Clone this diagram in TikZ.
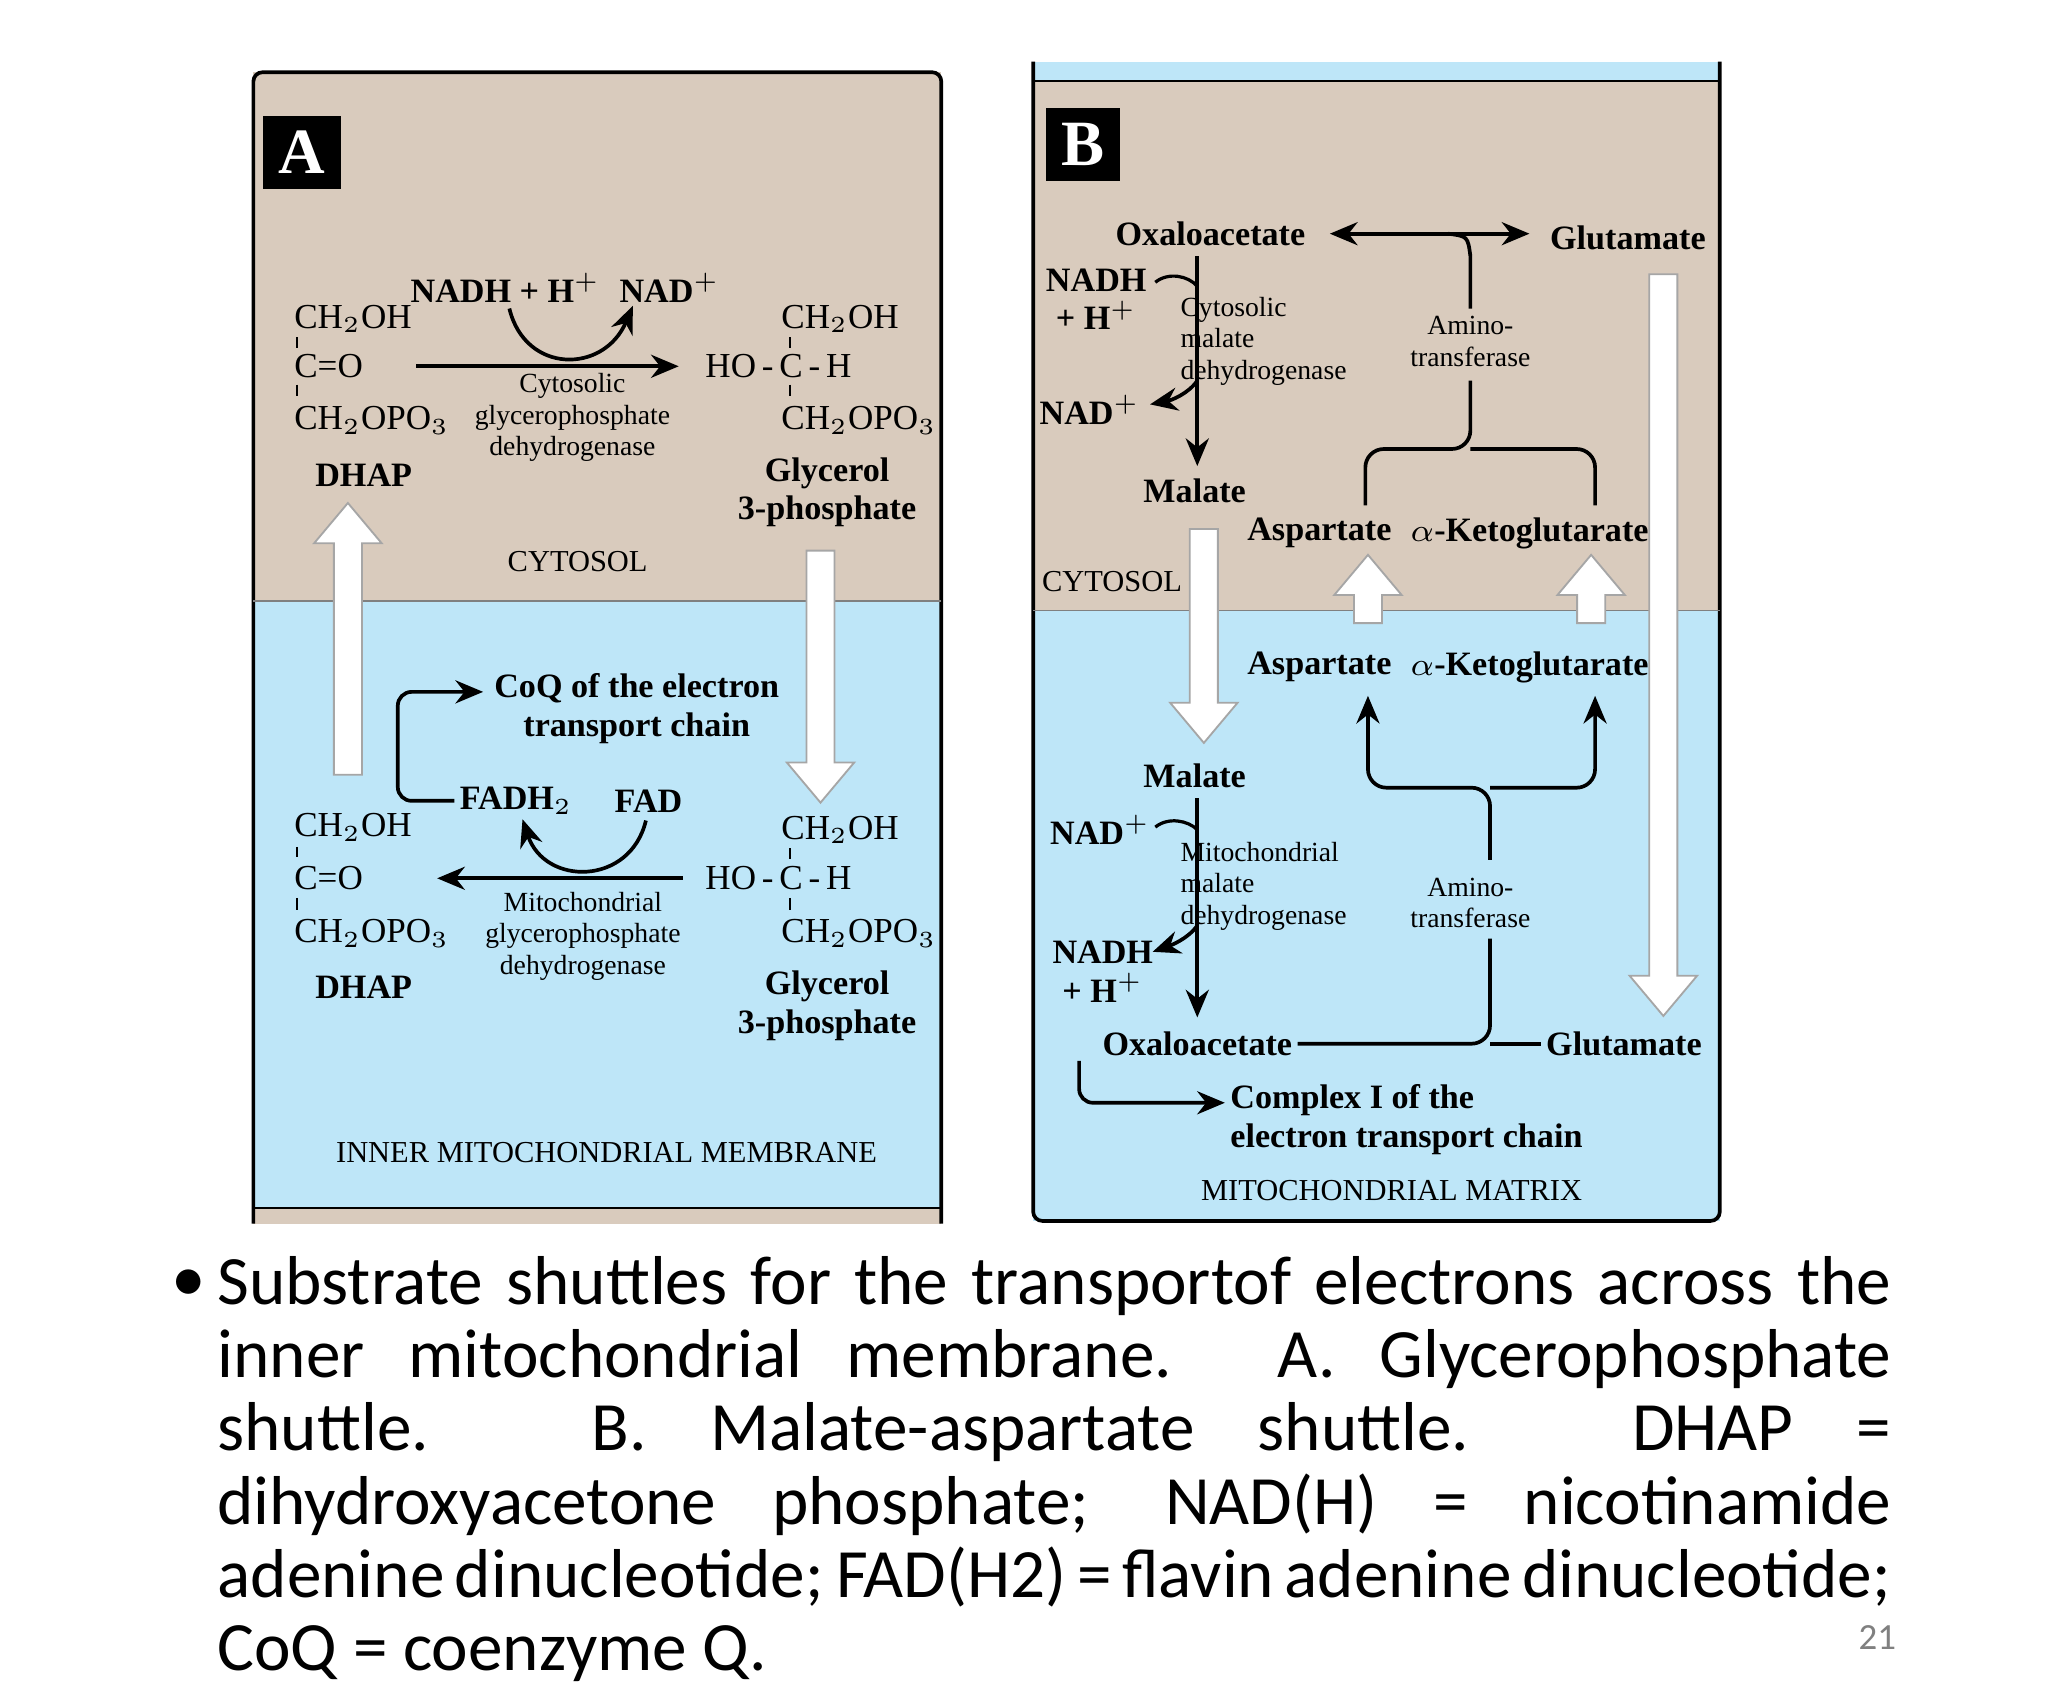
\documentclass[tikz,border=0pt]{standalone}
\usepackage{fontspec}
\setmainfont{Liberation Serif}
\newfontfamily\capfont{Carlito}[HyphenChar=None]
\usetikzlibrary{arrows.meta, calc, shapes.arrows}
\definecolor{cytotan}{HTML}{D9CBBD}
\definecolor{mitoblue}{HTML}{BEE6F8}
\tikzset{
  nm/.style={font=\fontsize{7.4}{8.4}\selectfont\bfseries, inner sep=1pt},
  ch/.style={font=\fontsize{7.6}{8.5}\selectfont, inner sep=1pt},
  enz/.style={font=\fontsize{6}{6.8}\selectfont, align=center, inner sep=1pt},
  reg/.style={font=\fontsize{6.6}{7.5}\selectfont, inner sep=1pt},
  rx/.style={-{Stealth[length=6pt,width=5pt]}, line width=0.8pt},
  big/.style={single arrow, draw=gray!70, fill=white, inner sep=1mm,
    single arrow head extend=1.5mm, single arrow tip angle=80},
  tk/.style={line width=0.4pt}
}
\begin{document}
\begin{tikzpicture}[x=0.1mm, y=-0.1mm]
\useasboundingbox (0,0) rectangle (1560,1300);
% panel A
\fill[cytotan] (193,55) rectangle (717,458);
\fill[mitoblue] (193,458) rectangle (717,920);
\fill[cytotan] (193,920) rectangle (717,932);
\draw[line width=0.8pt, rounded corners=2pt] (193,932) -- (193,55) -- (717,55) -- (717,932);
\draw (193,920) -- (717,920);
\draw[gray] (193,458) -- (717,458);
\node[fill=black, text=white, font=\fontsize{14}{14}\selectfont\bfseries, minimum size=5mm] (labA) at (230,116) {A};
% top glycerophosphate reaction
\node[ch, anchor=west] (d1) at (220,243) {CH$_2$OH};
\node[ch, anchor=west] (d2) at (220,279) {C=O};
\node[ch, anchor=west] (d3) at (220,320) {CH$_2$OPO$_3$};
\node[nm] (dhap) at (277,362) {DHAP};
\node[ch, anchor=west] (g1) at (591,243) {CH$_2$OH};
\node[ch] (g2) at (593,279) {HO\,-\,C\,-\,H};
\node[ch, anchor=west] (g3) at (591,320) {CH$_2$OPO$_3$};
\node[nm, align=center] (gly) at (630,375) {Glycerol\\3-phosphate};
\draw[tk] (226,257) -- (226,265); \draw[tk] (226,293) -- (226,302);
\draw[tk] (602,257) -- (602,265); \draw[tk] (602,293) -- (602,302);
\coordinate (r1) at (317,279); \coordinate (r2) at (517,279);
\draw[rx] (r1) -- (r2);
\node[nm] (nadh) at (385,219) {NADH + H$^+$};
\node[nm] (nad) at (510,219) {NAD$^+$};
\draw[rx] (388,235) .. controls (400,285) and (460,285) .. (482,233);
\node[enz] (enzA) at (436,318) {Cytosolic\\glycerophosphate\\dehydrogenase};
\node[reg] (cyA) at (440,428) {CYTOSOL};
\node[big, rotate=90, minimum height=20.7mm] (upA) at (265,493) {};
\node[big, rotate=-90, minimum height=19.2mm] (dnA) at (625,509) {};
% bottom glycerophosphate reaction
\node[ch, anchor=west] (e1) at (220,630) {CH$_2$OH};
\node[ch, anchor=west] (e2) at (220,669) {C=O};
\node[ch, anchor=west] (e3) at (220,711) {CH$_2$OPO$_3$};
\node[nm] (dhapm) at (277,752) {DHAP};
\node[ch, anchor=west] (h1) at (591,632) {CH$_2$OH};
\node[ch] (h2) at (593,669) {HO\,-\,C\,-\,H};
\node[ch, anchor=west] (h3) at (591,711) {CH$_2$OPO$_3$};
\node[nm, align=center] (glym) at (630,766) {Glycerol\\3-phosphate};
\draw[tk] (226,645) -- (226,653); \draw[tk] (226,684) -- (226,693);
\draw[tk] (602,646) -- (602,654); \draw[tk] (602,684) -- (602,693);
\coordinate (m1) at (520,669); \coordinate (m2) at (333,669);
\draw[rx] (m1) -- (m2);
\node[nm] (fadh) at (393,610) {FADH$_2$};
\node[nm] (fad) at (494,610) {FAD};
\draw[rx] (492,625) .. controls (480,675) and (415,675) .. (398,624);
\node[nm, align=center] (coq) at (485,540) {CoQ of the electron\\transport chain};
\coordinate (cq) at (368,527);
\draw[rx, rounded corners=3pt] (fadh.west) -- (303,610) -- (303,527) -- (cq);
\node[enz] (enzM) at (444,713) {Mitochondrial\\glycerophosphate\\dehydrogenase};
\node[reg] (imm) at (462,878) {INNER MITOCHONDRIAL MEMBRANE};
% panel B
\fill[mitoblue] (787,47) rectangle (1310,62);
\fill[cytotan] (787,62) rectangle (1310,465);
\fill[mitoblue] (787,465) rectangle (1310,930);
\draw[line width=0.8pt, rounded corners=2pt] (787,47) -- (787,930) -- (1310,930) -- (1310,47);
\draw (787,62) -- (1310,62);
\draw[gray] (787,465) -- (1310,465);
\node[fill=black, text=white, font=\fontsize{14}{14}\selectfont\bfseries, minimum size=5mm] (labB) at (825,110) {B};
\node[nm] (oaa) at (922,178) {Oxaloacetate};
\node[nm] (glu) at (1240,181) {Glutamate};
\coordinate (o1) at (1013,178); \coordinate (o2) at (1165,178);
\draw[{Stealth[length=6pt,width=5pt]}-{Stealth[length=6pt,width=5pt]}, line width=0.8pt] (o1) -- (o2);
\draw[line width=0.8pt] (1103,178) .. controls (1118,180) .. (1120,195) -- (1120,235);
\node[enz] (at1) at (1120,260) {Amino-\\transferase};
\node[nm, align=center] (nadhB) at (835,228) {NADH\\+ H$^+$};
\node[nm] (nadB) at (830,312) {NAD$^+$};
\node[nm] (malB) at (910,374) {Malate};
\draw[rx] (912,195) -- (912,355);
\draw[line width=0.7pt] (880,215) .. controls (890,207) and (905,210) .. (912,218);
\draw[rx] (912,290) .. controls (905,300) and (892,305) .. (876,308);
\node[enz, align=left, anchor=west] (enzB) at (895,260) {Cytosolic\\malate\\dehydrogenase};
\draw[line width=0.8pt, rounded corners=4pt] (1040,385) -- (1040,342) -- (1120,342) -- (1120,290);
\draw[line width=0.8pt, rounded corners=4pt] (1215,385) -- (1215,342) -- (1120,342);
\node[nm] (aspc) at (1005,406) {Aspartate};
\node[nm] (akgc) at (1165,406) {$\alpha$-Ketoglutarate};
\node[reg] (cyB) at (847,443) {CYTOSOL};
\node[big, rotate=90, minimum height=5.2mm] (upB1) at (1042,455) {};
\node[big, rotate=90, minimum height=5.2mm] (upB2) at (1212,455) {};
\node[big, rotate=-90, minimum height=16.3mm] (dnB1) at (917,478) {};
\node[big, rotate=-90, minimum height=56.5mm] (dnB2) at (1267,485) {};
\node[nm] (aspm) at (1005,508) {Aspartate};
\node[nm] (akgm) at (1165,508) {$\alpha$-Ketoglutarate};
\draw[rx, rounded corners=4pt] (1135,655) -- (1135,600) -- (1042,600) -- (1042,530);
\draw[rx, rounded corners=4pt] (1135,600) -- (1215,600) -- (1215,530);
\node[enz] (at2) at (1120,688) {Amino-\\transferase};
\node[nm] (malm) at (910,591) {Malate};
\node[nm] (nadm) at (838,632) {NAD$^+$};
\node[nm, align=center] (nadhm) at (840,740) {NADH\\+ H$^+$};
\draw[rx] (912,608) -- (912,775);
\draw[line width=0.7pt] (880,630) .. controls (890,622) and (905,625) .. (912,632);
\draw[rx] (912,705) .. controls (905,715) and (892,720) .. (878,725);
\node[enz, align=left, anchor=west] (enzBm) at (895,675) {Mitochondrial\\malate\\dehydrogenase};
\node[nm] (oaam) at (912,795) {Oxaloacetate};
\node[nm] (glum) at (1237,795) {Glutamate};
\draw[line width=0.8pt, rounded corners=4pt] (oaam.east) -- (1135,795) -- (1135,715);
\draw[line width=0.8pt, rounded corners=4pt] (glum.west) -- (1135,795);
\node[nm, align=left, anchor=west] (cx1) at (933,853) {Complex I of the\\electron transport chain};
\coordinate (cx0) at (933,840);
\draw[rx, rounded corners=3pt] (822,808) -- (822,840) -- (cx0);
\node[reg] (mm) at (1060,907) {MITOCHONDRIAL MATRIX};
% caption
\node[anchor=north west, font=\capfont\fontsize{15}{15.9}\selectfont] (bul) at (118,955) {\textbullet};
\node[anchor=north west, inner sep=0pt, text width=127.5mm, align=justify,
  font=\capfont\fontsize{15}{15.9}\selectfont] (cap) at (165,956)
  {Substrate shuttles for the transportof electrons across the inner mitochondrial membrane. A. Glycerophosphate shuttle. B. Malate-aspartate shuttle. DHAP = dihydroxyacetone phosphate; NAD(H) = nicotinamide adenine dinucleotide; FAD(H2) = flavin adenine dinucleotide; CoQ = coenzyme Q.};
\node[font=\capfont\fontsize{8}{9}\selectfont, text=gray] (pg) at (1430,1247) {21};
\end{tikzpicture}
\end{document}
